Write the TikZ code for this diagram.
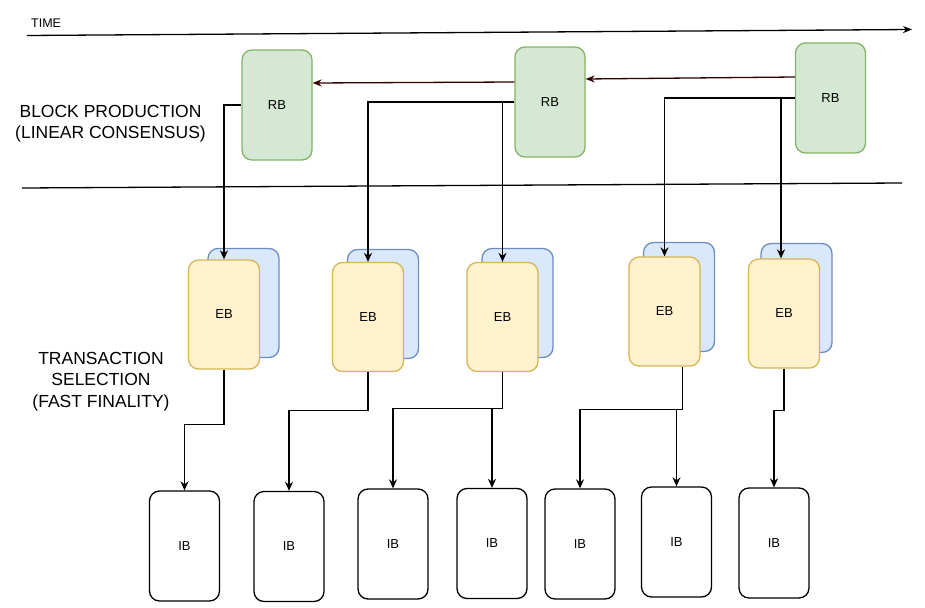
\documentclass[tikz,border=0pt]{standalone}
\usepackage{fontspec}
\setmainfont{Liberation Sans}
\usetikzlibrary{arrows.meta}

\definecolor{rbfill}{HTML}{D5E8D4}
\definecolor{rbline}{HTML}{82B366}
\definecolor{ebfill}{HTML}{FFF2CC}
\definecolor{ebline}{HTML}{D6B656}
\definecolor{bkfill}{HTML}{DAE8FC}
\definecolor{bkline}{HTML}{6C8EBF}
\definecolor{chain}{HTML}{330000}

\tikzset{
  block/.style={rectangle, rounded corners=10pt, line width=1.3pt, inner sep=0pt,
                minimum width=70pt, minimum height=110pt, font=\fontsize{13}{15}\selectfont},
  rbbox/.style={block, draw=rbline, fill=rbfill},
  ebbox/.style={block, draw=ebline, fill=ebfill, minimum width=71pt, minimum height=109pt},
  backbox/.style={block, draw=bkline, fill=bkfill, minimum width=71pt, minimum height=109pt},
  ibbox/.style={block, draw=black, fill=white},
  flow/.style={-{Stealth[length=9pt,width=8pt]}, line width=1.3pt},
  prev/.style={-{Stealth[length=9pt,width=7pt]}, line width=1.3pt, draw=chain},
  heading/.style={align=center, inner sep=0pt}
}

\begin{document}
\begin{tikzpicture}[x=1pt, y=-1pt]

             \useasboundingbox (0,0) rectangle (925,607);

             % time axis and separator
             \coordinate (t0) at (27,35.5);
             \coordinate (t1) at (912,29.5);
             \coordinate (s0) at (22,188);
             \coordinate (s1) at (902,183);
             \draw [-{Stealth[length=9pt,width=7pt]}, line width=1.3pt] (t0) -- (t1);
             \draw [line width=1.3pt] (s0) -- (s1);

             \node (time) [anchor=base west, inner sep=0pt, font=\fontsize{12.5}{15}\selectfont] at (31,27.3) {TIME};

             \node (bp) [heading, font=\fontsize{17.5}{20.5}\selectfont] at (110.5,123.5)
                  {BLOCK PRODUCTION\\(LINEAR CONSENSUS)};
             \node (ts) [heading, font=\fontsize{17.5}{21.5}\selectfont] at (101,381.5)
                  {TRANSACTION\\SELECTION\\(FAST FINALITY)};

             % ranking blocks
             \node (rb1) [rbbox] at (277,105) {RB};
             \node (rb2) [rbbox] at (550,102) {RB};
             \node (rb3) [rbbox] at (830.5,98) {RB};

             \draw [prev] ([yshift=20pt]rb2.west) to ([yshift=22pt]rb1.east);
             \draw [prev] ([yshift=21pt]rb3.west) to ([yshift=23pt]rb2.east);

             % endorser blocks
             \node (bk1) [backbox] at (243.5,303) {};
             \node (eb1) [ebbox] at (224,314.5) {EB};

             \node (bk2) [backbox] at (383,304) {};
             \node (eb2) [ebbox] at (368,317) {EB};

             \node (bk3) [backbox] at (517.5,303) {};
             \node (eb3) [ebbox] at (502.5,317) {EB};

             \node (bk4) [backbox] at (679,297) {};
             \node (eb4) [ebbox] at (664.5,311.5) {EB};

             \node (bk5) [backbox] at (796.5,298) {};
             \node (eb5) [ebbox] at (784,313.5) {EB};

             \draw [flow] (rb1.west) -| (eb1.north);
             \draw [flow] (rb2.west) -| (eb2.north);
             \draw [flow] (rb2.west) -| (eb3.north);
             \draw [flow] (rb3.west) -| (eb4.north);
             \draw [flow] (rb3.west) -| ([xshift=-3pt]eb5.north);

             % input blocks
             \node (ib1) [ibbox] at (184.5,546) {IB};
             \node (ib2) [ibbox] at (289,546.5) {IB};
             \node (ib3) [ibbox] at (393,544) {IB};
             \node (ib4) [ibbox] at (492,543.5) {IB};
             \node (ib5) [ibbox] at (580,544) {IB};
             \node (ib6) [ibbox] at (676.5,542) {IB};
             \node (ib7) [ibbox] at (774,543) {IB};

             \draw [flow] (eb1.south) -- ++(0,55) -| (ib1.north);
             \draw [flow] (eb2.south) -- ++(0,38) -| (ib2.north);
             \draw [flow] (eb3.south) -- ++(0,36) -| (ib3.north);
             \draw [flow] (eb3.south) -- ++(0,36) -| (ib4.north);
             \draw [flow] ([xshift=18pt]eb4.south) -- ++(0,43) -| (ib5.north);
             \draw [flow] ([xshift=18pt]eb4.south) -- ++(0,43) -| (ib6.north);
             \draw [flow] (eb5.south) -- ++(0,42) -| (ib7.north);

\end{tikzpicture}
\end{document}
